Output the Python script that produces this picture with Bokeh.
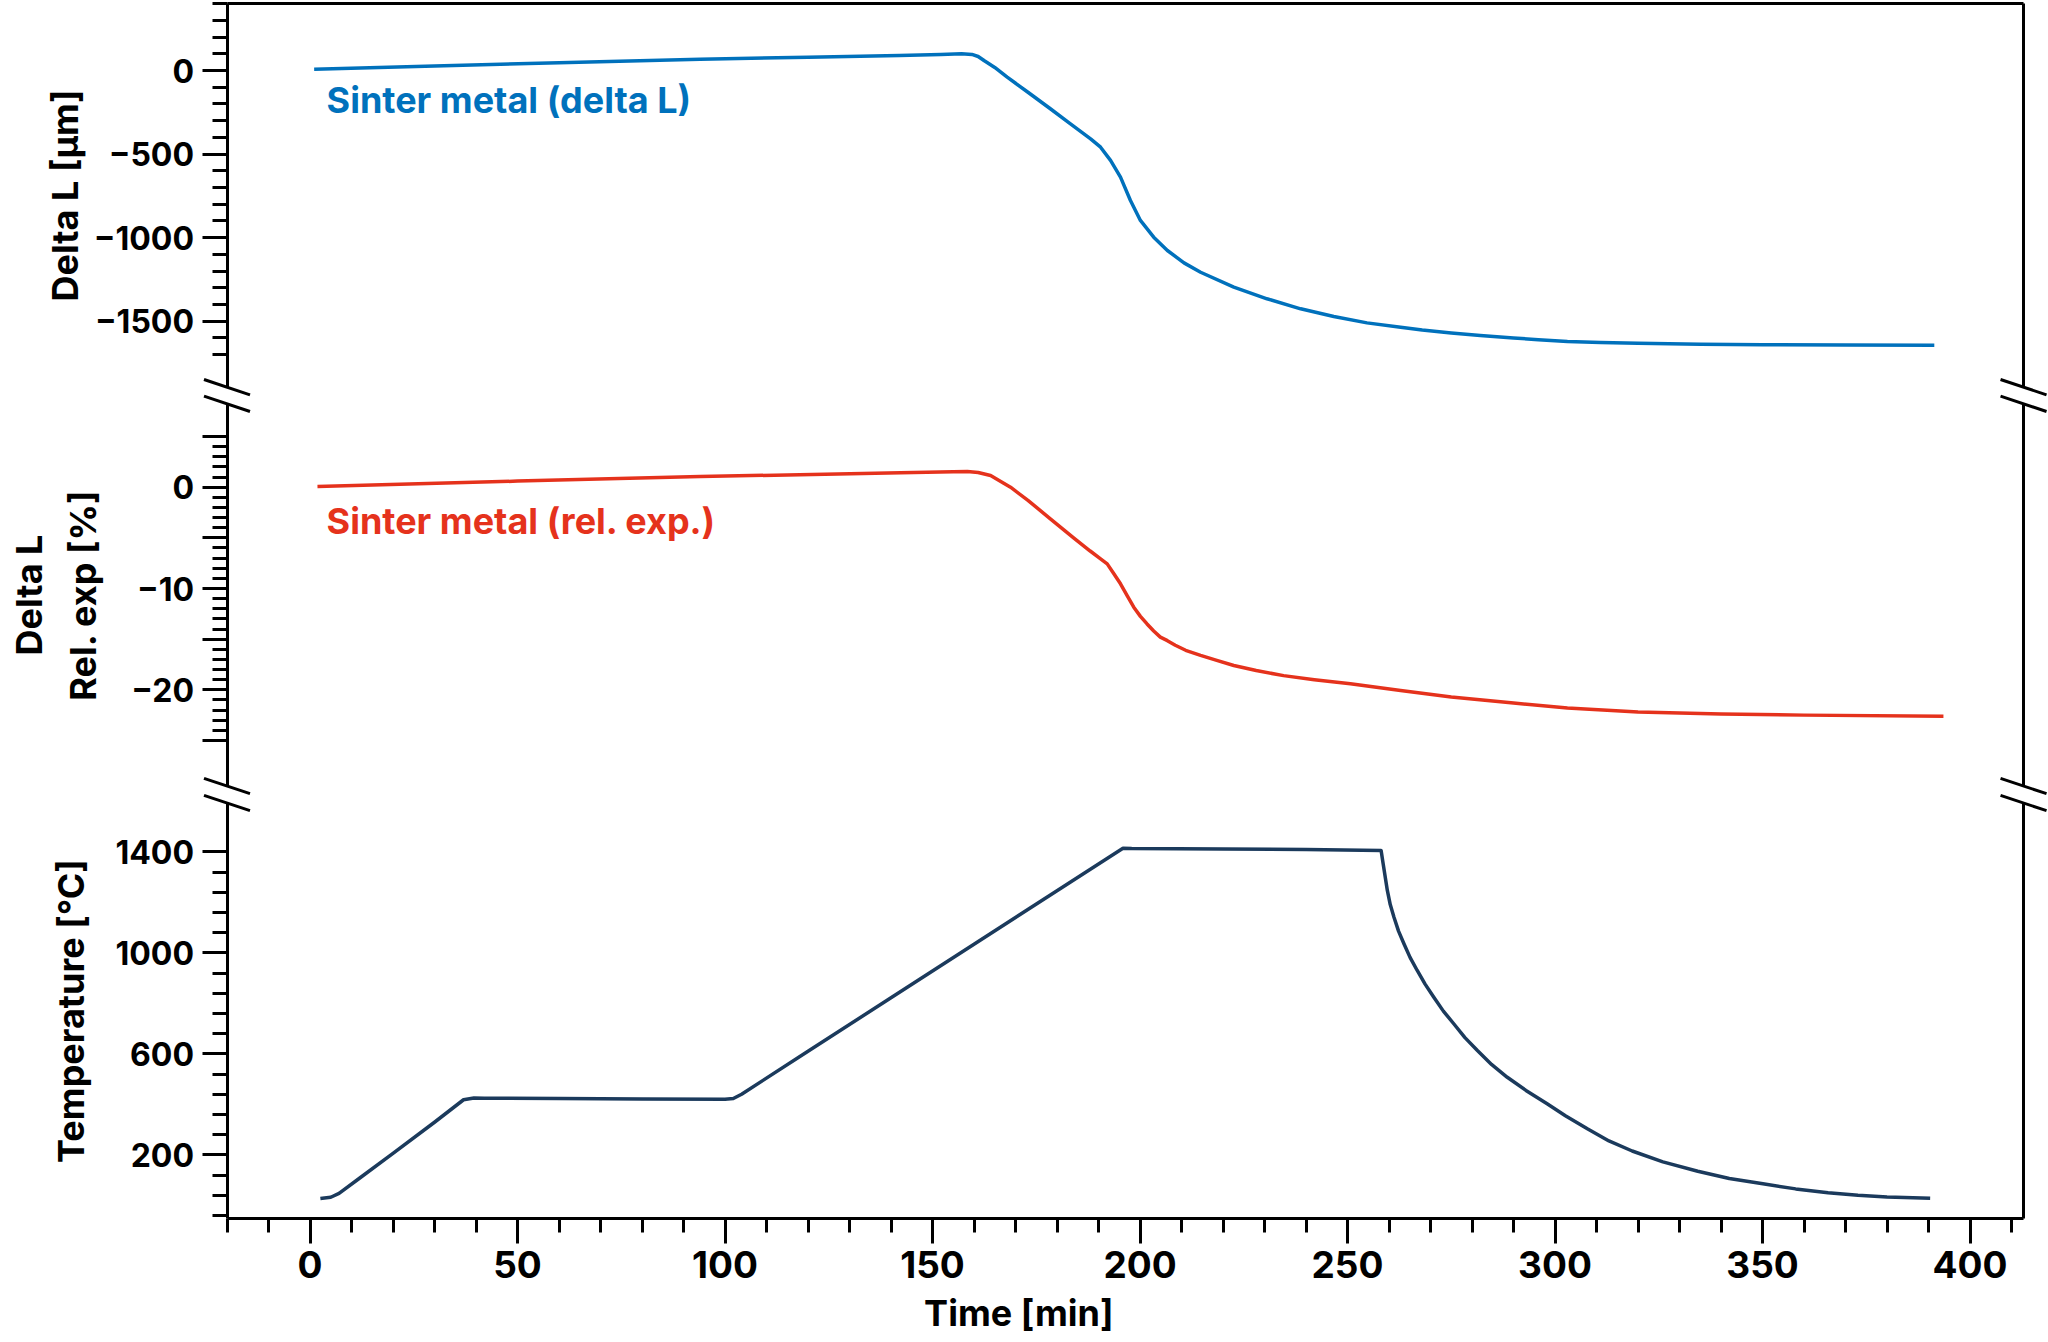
from bokeh.plotting import figure
from bokeh.models import Range1d, LinearAxis, FixedTicker, Label
from bokeh.embed import file_html
from bokeh.resources import INLINE

# ---------------- data ----------------
time_delta_l = [1, 30, 60, 94, 120, 142, 152, 157, 159.5, 161, 162.5, 165, 168, 173, 178.4,
                183, 188.1, 190.5, 192.9, 195.3, 197.7, 200.1, 203.3, 206.6, 210.6, 214.6,
                222.6, 230.6, 238.7, 246.7, 254.7, 262.8, 268, 275, 282, 290, 296, 303, 311,
                320, 335, 350, 370, 391.4]
delta_l_um = [8, 27, 47, 68, 80, 90, 96, 100, 96, 84, 58, 18, -40, -130, -229,
              -315, -409, -459, -538, -638, -778, -897, -997, -1077, -1151, -1207,
              -1296, -1366, -1426, -1472, -1510, -1536, -1553, -1570, -1585, -1600, -1611, -1621, -1627,
              -1632, -1638, -1641, -1643, -1644]

time_rel_exp = [1.8, 50, 94, 142.3, 155, 158.4, 161, 164, 168.8, 173, 178.4, 184, 188, 190.5,
                192.1, 193.7, 195.3, 196.9, 198.5, 200.1, 201.7, 203.3, 204.9, 206.6, 208.5,
                211, 214.6, 218.5, 222.6, 228, 234.6, 242, 250.7, 262.8, 275, 290, 303, 320,
                340, 360, 393.6]
rel_exp_pct = [0.07, 0.6, 1.05, 1.42, 1.52, 1.55, 1.45, 1.15, 0.0, -1.3, -3.12, -5.0, -6.3, -7.07,
               -7.57, -8.55, -9.54, -10.7, -11.85, -12.75, -13.5, -14.2, -14.8, -15.15, -15.6,
               -16.1, -16.6, -17.1, -17.6, -18.1, -18.6, -19.0, -19.4, -20.07, -20.7, -21.3, -21.8, -22.2,
               -22.4, -22.5, -22.6]

time_temp = [2.5, 5, 7, 12, 20, 30, 37, 39.5, 42, 60, 80, 100, 102, 104, 120, 140, 160, 180,
             195.9, 198, 220, 240, 258.1, 258.6, 259.6, 260.3, 261.2, 262.3, 263.6, 265.1,
             266.8, 268.7, 270.8, 273.1, 275.6, 278.3, 281.3, 284.7, 288.5, 293, 298.1, 302.5,
             307.8, 313, 318.6, 326, 334.4, 342, 350.1, 358, 365.8, 373, 380, 390.4]
temperature_c = [27, 32, 47, 108, 206, 329, 418, 425, 424, 423, 421, 420, 423, 440, 610, 822, 1034, 1246,
                 1414, 1413, 1411, 1409, 1405, 1352, 1247, 1191, 1141, 1086, 1036, 981,
                 930, 876, 824, 769, 719, 664, 613, 558, 507, 455, 402, 355,
                 303, 255, 215, 172, 135, 106, 85, 65, 50, 40, 33, 28]

x_major_ticks = [0, 50, 100, 150, 200, 250, 300, 350, 400]
x_minor_ticks = list(range(-20, 411, 10))
dl_major_ticks = [-1500, -1000, -500, 0]
dl_minor_ticks = list(range(-1700, 401, 100))
rel_major_ticks = [5, 0, -5, -10, -15, -20, -25]
rel_unlabelled = [5, -5, -15, -25]
rel_minor_ticks = list(range(-25, 6))
temp_major_ticks = [200, 600, 1000, 1400]
temp_minor_ticks = list(range(-40, 1401, 80))

series_names = ["Sinter metal (delta L)", "Sinter metal (rel. exp.)"]
axis_titles = ["Delta L [µm]", "Delta L\nRel. exp [%]", "Temperature [°C]", "Time [min]"]

# ---------------- styling / layout ----------------
BLUE = "#0071BC"
RED = "#E5321C"
NAVY = "#1B3A5C"
FONT = "Inter"

W, H = 2048, 1342
FW, FH = W, H

PX_PER_MIN = 4.150
X_AT_ZERO = 309.5            # canvas px where t = 0
x_start = -X_AT_ZERO / PX_PER_MIN
x_end = x_start + FW / PX_PER_MIN
X_LEFT, X_RIGHT = -20, 412.9

REF_TOP, REF_AXIS = 3.0, 1217.5


def panel_range(v0, ref0, k):
    return Range1d(start=v0 - (FH - ref0) / k, end=v0 + ref0 / k)


def pval(v0, ref0, k, ref):
    return v0 - (ref - ref0) / k


P1 = (0, 70.0, 0.16713)
P2 = (0, 486.7, 10.13)
P3 = (200, 1154.3, 0.2525)
BREAKS = [(386.7, 403.3), (785.5, 802.5)]

r_dl = panel_range(*P1)
r_rel = panel_range(*P2)
r_temp = panel_range(*P3)

p = figure(width=W, height=H, x_range=Range1d(x_start, x_end), y_range=Range1d(FH, 0),
           x_axis_type=None, y_axis_type=None, output_backend="svg", toolbar_location=None,
           min_border_left=0, min_border_right=0, min_border_top=0, min_border_bottom=0)
p.outline_line_color = None
p.background_fill_color = "white"
p.border_fill_color = "white"
p.extra_y_ranges = {"dl": r_dl, "rel": r_rel, "temp": r_temp}
p.extra_x_ranges = {"cx": Range1d(0, FW)}

# data lines
p.line(time_delta_l, delta_l_um, y_range_name="dl", line_color=BLUE, line_width=3.5,
       line_join="round")
p.line(time_rel_exp, rel_exp_pct, y_range_name="rel", line_color=RED, line_width=3.5,
       line_join="round")
p.line(time_temp, temperature_c, y_range_name="temp", line_color=NAVY, line_width=3.5,
       line_join="round")


def style_axis(ax, tick_size="32px"):
    ax.axis_line_width = 3
    ax.axis_line_color = "black"
    ax.major_tick_line_width = 3
    ax.minor_tick_line_width = 3
    ax.major_tick_line_color = "black"
    ax.minor_tick_line_color = "black"
    ax.major_tick_in = 0
    ax.major_tick_out = 25
    ax.minor_tick_in = 0
    ax.minor_tick_out = 15
    ax.major_label_text_font = FONT
    ax.major_label_text_font_style = "bold"
    ax.major_label_text_font_size = tick_size
    ax.major_label_text_color = "black"
    ax.axis_label_text_font = FONT
    ax.axis_label_text_font_style = "bold"
    ax.axis_label_text_font_size = "36px"
    ax.axis_label_text_color = "black"


def left_axis(rname, bounds, major, minor, title, standoff, overrides=None):
    ax = LinearAxis(y_range_name=rname, fixed_location=X_LEFT, bounds=bounds,
                    ticker=FixedTicker(ticks=major, minor_ticks=minor), axis_label=title)
    style_axis(ax)
    ax.major_label_standoff = 8
    ax.axis_label_standoff = standoff
    ax.axis_label_text_line_height = 1.22
    if overrides:
        ax.major_label_overrides = overrides
    p.add_layout(ax, "left")


def frame_line(side, **kw):
    ax = LinearAxis(ticker=FixedTicker(ticks=[], minor_ticks=[]), **kw)
    ax.axis_line_width = 3
    ax.axis_line_color = "black"
    ax.major_label_text_font_size = "0px"
    p.add_layout(ax, side)


b1 = (pval(*P1, BREAKS[0][0]), pval(*P1, REF_TOP))
b2 = (pval(*P2, BREAKS[1][0]), pval(*P2, BREAKS[0][1]))
b3 = (pval(*P3, REF_AXIS), pval(*P3, BREAKS[1][1]))

left_axis("dl", b1, dl_major_ticks, dl_minor_ticks, axis_titles[0], 4)
left_axis("rel", b2, rel_major_ticks, rel_minor_ticks, axis_titles[1], 24,
          {t: "" for t in rel_unlabelled})
left_axis("temp", b3, temp_major_ticks, temp_minor_ticks, axis_titles[2], 20)

for rname, bnds in (("dl", b1), ("rel", b2), ("temp", b3)):
    frame_line("right", y_range_name=rname, fixed_location=X_RIGHT, bounds=bnds)
frame_line("above", fixed_location=REF_TOP, bounds=(X_LEFT, X_RIGHT))

# x axis (drawn at the bottom of the lowest panel)
xax = LinearAxis(bounds=(X_LEFT, X_RIGHT), fixed_location=REF_AXIS,
                 ticker=FixedTicker(ticks=x_major_ticks, minor_ticks=x_minor_ticks))
style_axis(xax, tick_size="37px")
xax.minor_tick_out = 14
xax.major_label_standoff = 8
p.add_layout(xax, "below")

# x axis title, centred under the chart
p.add_layout(Label(x=170.8, y=1312, text=axis_titles[3], text_color="black",
                   text_font=FONT, text_font_style="bold", text_font_size="36px",
                   text_baseline="middle", text_align="center"))

# break marks (decoration) in canvas pixel units
cx_left = (X_LEFT - x_start) * PX_PER_MIN
cx_right = (X_RIGHT - x_start) * PX_PER_MIN
DX, DY = 23, 7.7
sx0, sy0, sx1, sy1 = [], [], [], []
for cxx in (cx_left, cx_right):
    for pair in BREAKS:
        for ref in pair:
            sx0.append(cxx - DX); sy0.append(ref - DY)
            sx1.append(cxx + DX); sy1.append(ref + DY)
p.segment(x0=sx0, y0=sy0, x1=sx1, y1=sy1, x_range_name="cx",
          line_color="black", line_width=3)

# series labels
p.add_layout(Label(x=4, y=-176, y_range_name="dl", text=series_names[0], text_color=BLUE,
                   text_font=FONT, text_font_style="bold", text_font_size="36px",
                   text_baseline="middle", text_align="left"))
p.add_layout(Label(x=4, y=-3.36, y_range_name="rel", text=series_names[1], text_color=RED,
                   text_font=FONT, text_font_style="bold", text_font_size="36px",
                   text_baseline="middle", text_align="left"))

open("out.html", "w").write(file_html(p, INLINE))
